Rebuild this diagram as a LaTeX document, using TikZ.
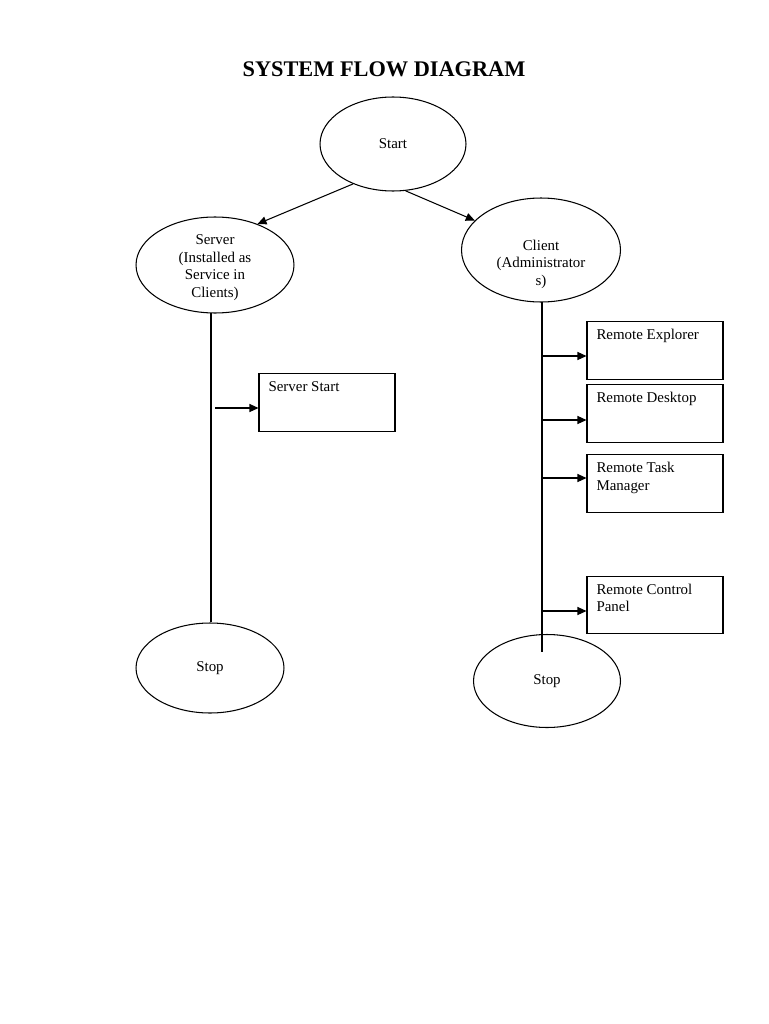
\documentclass[tikz,border=0pt]{standalone}
\usepackage{fontspec}
\setmainfont{Liberation Serif}
\usetikzlibrary{shapes.geometric,arrows.meta}
\tikzset{
  oval/.style={draw,ellipse,inner sep=0pt,align=center,font=\fontsize{8.5}{10}\selectfont},
  ovaltxt/.style={align=center,inner sep=0pt,font=\fontsize{8.5}{10}\selectfont},
  box/.style={draw,minimum width=2.72cm,minimum height=1.15cm,label={[boxlbl]north west:#1}},
  boxlbl/.style={anchor=north west,align=left,inner sep=0pt,xshift=0.19cm,yshift=-0.15cm,font=\fontsize{8.5}{10}\selectfont},
  arr/.style={-{Triangle[length=0.18cm,width=0.16cm]}}
}
\begin{document}
\begin{tikzpicture}[x=0.02cm,y=-0.02cm,line width=0.6pt]
\useasboundingbox (0,0) rectangle (768,1024);
\node[font=\fontsize{12.7}{14}\selectfont\bfseries] (title) at (384,69) {SYSTEM FLOW DIAGRAM};
\node[oval,minimum width=2.92cm,minimum height=1.88cm] (start) at (393,144) {Start};
\node[oval,minimum width=3.16cm,minimum height=1.92cm,label={[ovaltxt,yshift=-0.05cm]center:Server\\(Installed as\\Service in\\Clients)}] (server) at (215,265) {};
\node[oval,minimum width=3.18cm,minimum height=2.08cm,label={[ovaltxt,yshift=-0.28cm]center:Client\\(Administrator\\s)}] (client) at (541,250) {};
\node[oval,minimum width=2.96cm,minimum height=1.80cm] (stopL) at (210,668) {Stop};
\node[oval,minimum width=2.94cm,minimum height=1.86cm] (stopR) at (547,681) {Stop};
\node[box={Server Start}] (sstart) at (327,402.5) {};
\node[box={Remote Explorer}] (rexp) at (655,350.5) {};
\node[box={Remote Desktop}] (rdesk) at (655,413.5) {};
\node[box={Remote Task\\Manager}] (rtask) at (655,483.5) {};
\node[box={Remote Control\\Panel}] (rcp) at (655,605) {};
\coordinate (lineL) at (211,313);
\coordinate (lineR) at (542,302);
\coordinate (endR) at (542,652);
\draw[arr] (start.225) -- (server.44);
\draw[arr] (start.285) -- (client.156);
\draw (lineL) -- (lineL |- stopL.north);
\draw (lineR) -- (endR);
\draw[arr] (215,408) -- (sstart.west |- 0,408);
\draw[arr] (lineR |- 0,356) -- (rexp.west |- 0,356);
\draw[arr] (lineR |- 0,420) -- (rdesk.west |- 0,420);
\draw[arr] (lineR |- 0,478) -- (rtask.west |- 0,478);
\draw[arr] (lineR |- 0,611) -- (rcp.west |- 0,611);
\end{tikzpicture}
\end{document}
